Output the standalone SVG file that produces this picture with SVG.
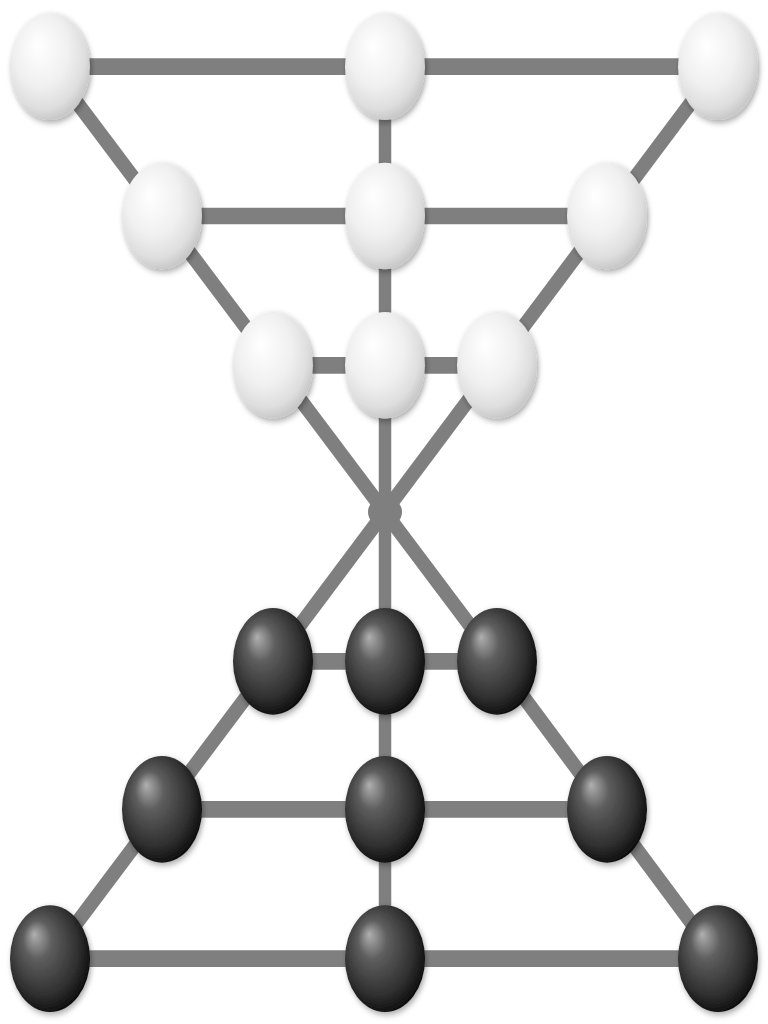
<svg xmlns="http://www.w3.org/2000/svg" width="768" height="1024" viewBox="0 0 768 1024">
<defs>
<radialGradient id="gW" cx="0.42" cy="0.38" r="0.62" fx="0.35" fy="0.3">
<stop offset="0" stop-color="#ffffff"/>
<stop offset="0.55" stop-color="#f0f0f0"/>
<stop offset="0.85" stop-color="#dedede"/>
<stop offset="1" stop-color="#c9c9c9"/>
</radialGradient>
<radialGradient id="gD" cx="0.45" cy="0.45" r="0.6" fx="0.3" fy="0.27">
<stop offset="0" stop-color="#b0b0b0"/>
<stop offset="0.3" stop-color="#5e5e5e"/>
<stop offset="0.75" stop-color="#2e2e2e"/>
<stop offset="0.92" stop-color="#141414"/>
<stop offset="1" stop-color="#050505"/>
</radialGradient>
<filter id="sh" x="-30%" y="-30%" width="160%" height="160%">
<feDropShadow dx="1.5" dy="2" stdDeviation="2.5" flood-color="#000" flood-opacity="0.35"/>
</filter>
</defs>
<style>
.c{stroke:#7f7f7f;stroke-width:12.5;fill:none}
.w{fill:url(#gW);filter:url(#sh)}
.d{fill:url(#gD);filter:url(#sh)}
</style>
<rect width="768" height="1024" fill="#ffffff"/>
<g transform="scale(1,1.3333)">
<g id="connectors" class="c">
<line x1="50" y1="50" x2="718" y2="50"/>
<line x1="162" y1="162" x2="607" y2="162"/>
<line x1="273" y1="274" x2="497" y2="274"/>
<line x1="385" y1="50" x2="385" y2="719"/>
<line x1="50" y1="50" x2="497" y2="496"/>
<line x1="718" y1="50" x2="273" y2="496"/>
<line x1="273" y1="496" x2="497" y2="496"/>
<line x1="162" y1="607" x2="607" y2="607"/>
<line x1="50" y1="719" x2="718" y2="719"/>
<line x1="273" y1="496" x2="50" y2="719"/>
<line x1="497" y1="496" x2="718" y2="719"/>
<ellipse id="junction" cx="385" cy="384" rx="17" ry="11.5" fill="#7f7f7f" stroke="none"/>
</g>
<g id="w1"><ellipse class="w" cx="50" cy="50" rx="40" ry="40"/></g>
<g id="w2"><ellipse class="w" cx="385" cy="50" rx="40" ry="40"/></g>
<g id="w3"><ellipse class="w" cx="718" cy="50" rx="40" ry="40"/></g>
<g id="w4"><ellipse class="w" cx="162" cy="162" rx="40" ry="40"/></g>
<g id="w5"><ellipse class="w" cx="385" cy="162" rx="40" ry="40"/></g>
<g id="w6"><ellipse class="w" cx="607" cy="162" rx="40" ry="40"/></g>
<g id="w7"><ellipse class="w" cx="273" cy="274" rx="40" ry="40"/></g>
<g id="w8"><ellipse class="w" cx="385" cy="274" rx="40" ry="40"/></g>
<g id="w9"><ellipse class="w" cx="497" cy="274" rx="40" ry="40"/></g>
<g id="d1"><ellipse class="d" cx="273" cy="496" rx="40" ry="40"/></g>
<g id="d2"><ellipse class="d" cx="385" cy="496" rx="40" ry="40"/></g>
<g id="d3"><ellipse class="d" cx="497" cy="496" rx="40" ry="40"/></g>
<g id="d4"><ellipse class="d" cx="162" cy="607" rx="40" ry="40"/></g>
<g id="d5"><ellipse class="d" cx="385" cy="607" rx="40" ry="40"/></g>
<g id="d6"><ellipse class="d" cx="607" cy="607" rx="40" ry="40"/></g>
<g id="d7"><ellipse class="d" cx="50" cy="719" rx="40" ry="40"/></g>
<g id="d8"><ellipse class="d" cx="385" cy="719" rx="40" ry="40"/></g>
<g id="d9"><ellipse class="d" cx="718" cy="719" rx="40" ry="40"/></g>
</g>
</svg>
